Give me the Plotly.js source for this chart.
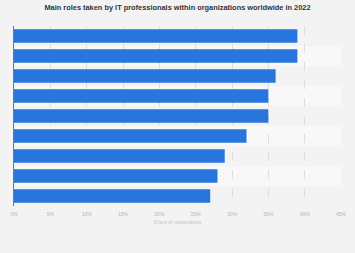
<!DOCTYPE html>
<html><head><meta charset="utf-8">
<script src="https://cdn.plot.ly/plotly-3.0.1.min.js"></script>
<style>html,body{margin:0;padding:0;background:#f3f3f3;}#c{width:355px;height:253px;}</style>
</head><body><div id="c"></div>
<script>
var categories = ["Role 1","Role 2","Role 3","Role 4","Role 5","Role 6","Role 7","Role 8","Role 9"];
var values = [39, 39, 36, 35, 35, 32, 29, 28, 27];
var tickVals = [0,5,10,15,20,25,30,35,40,45];
var tickText = ["0%","5%","10%","15%","20%","25%","30%","35%","40%","45%"];

var shapes = [];
categories.forEach(function(c, i){
  if (i % 2 === 1) {
    shapes.push({type:'rect', xref:'paper', yref:'y', x0:0, x1:1, y0:i-0.5, y1:i+0.5,
      fillcolor:'#f8f8f8', line:{width:0}, layer:'below'});
  }
});

Plotly.newPlot('c', [{
  type:'bar', orientation:'h', y:categories, x:values,
  marker:{color:'#2876dd'}, hoverinfo:'none'
}], {
  width:355, height:253,
  margin:{l:14, r:14, t:26, b:47},
  paper_bgcolor:'#f3f3f3', plot_bgcolor:'#f3f3f3',
  bargap:0.32,
  shapes:shapes,
  title:{text:'<b>Main roles taken by IT professionals within organizations worldwide in 2022</b>',
    font:{family:'Liberation Sans, Arial, sans-serif', size:7.4, color:'#333'}, x:0.5, xanchor:'center', y:0.97, yanchor:'middle'},
  xaxis:{range:[0,45], tickvals:tickVals, ticktext:tickText, showgrid:true, gridcolor:'#dedede', griddash:'dash', gridwidth:1,
    zeroline:false, showline:false, ticks:'', ticklabelstandoff:4,
    tickfont:{family:'Liberation Sans, Arial, sans-serif', size:5, color:'#b5b5b5'},
    title:{text:'Share of respondents', font:{family:'Liberation Sans, Arial, sans-serif', size:5, color:'#c5c5c5'}, standoff:4}},
  yaxis:{autorange:'reversed', showticklabels:false, ticks:'', showgrid:false, zeroline:false,
    showline:true, linecolor:'#777', linewidth:1},
  showlegend:false
}, {displayModeBar:false, staticPlot:true});
</script></body></html>
